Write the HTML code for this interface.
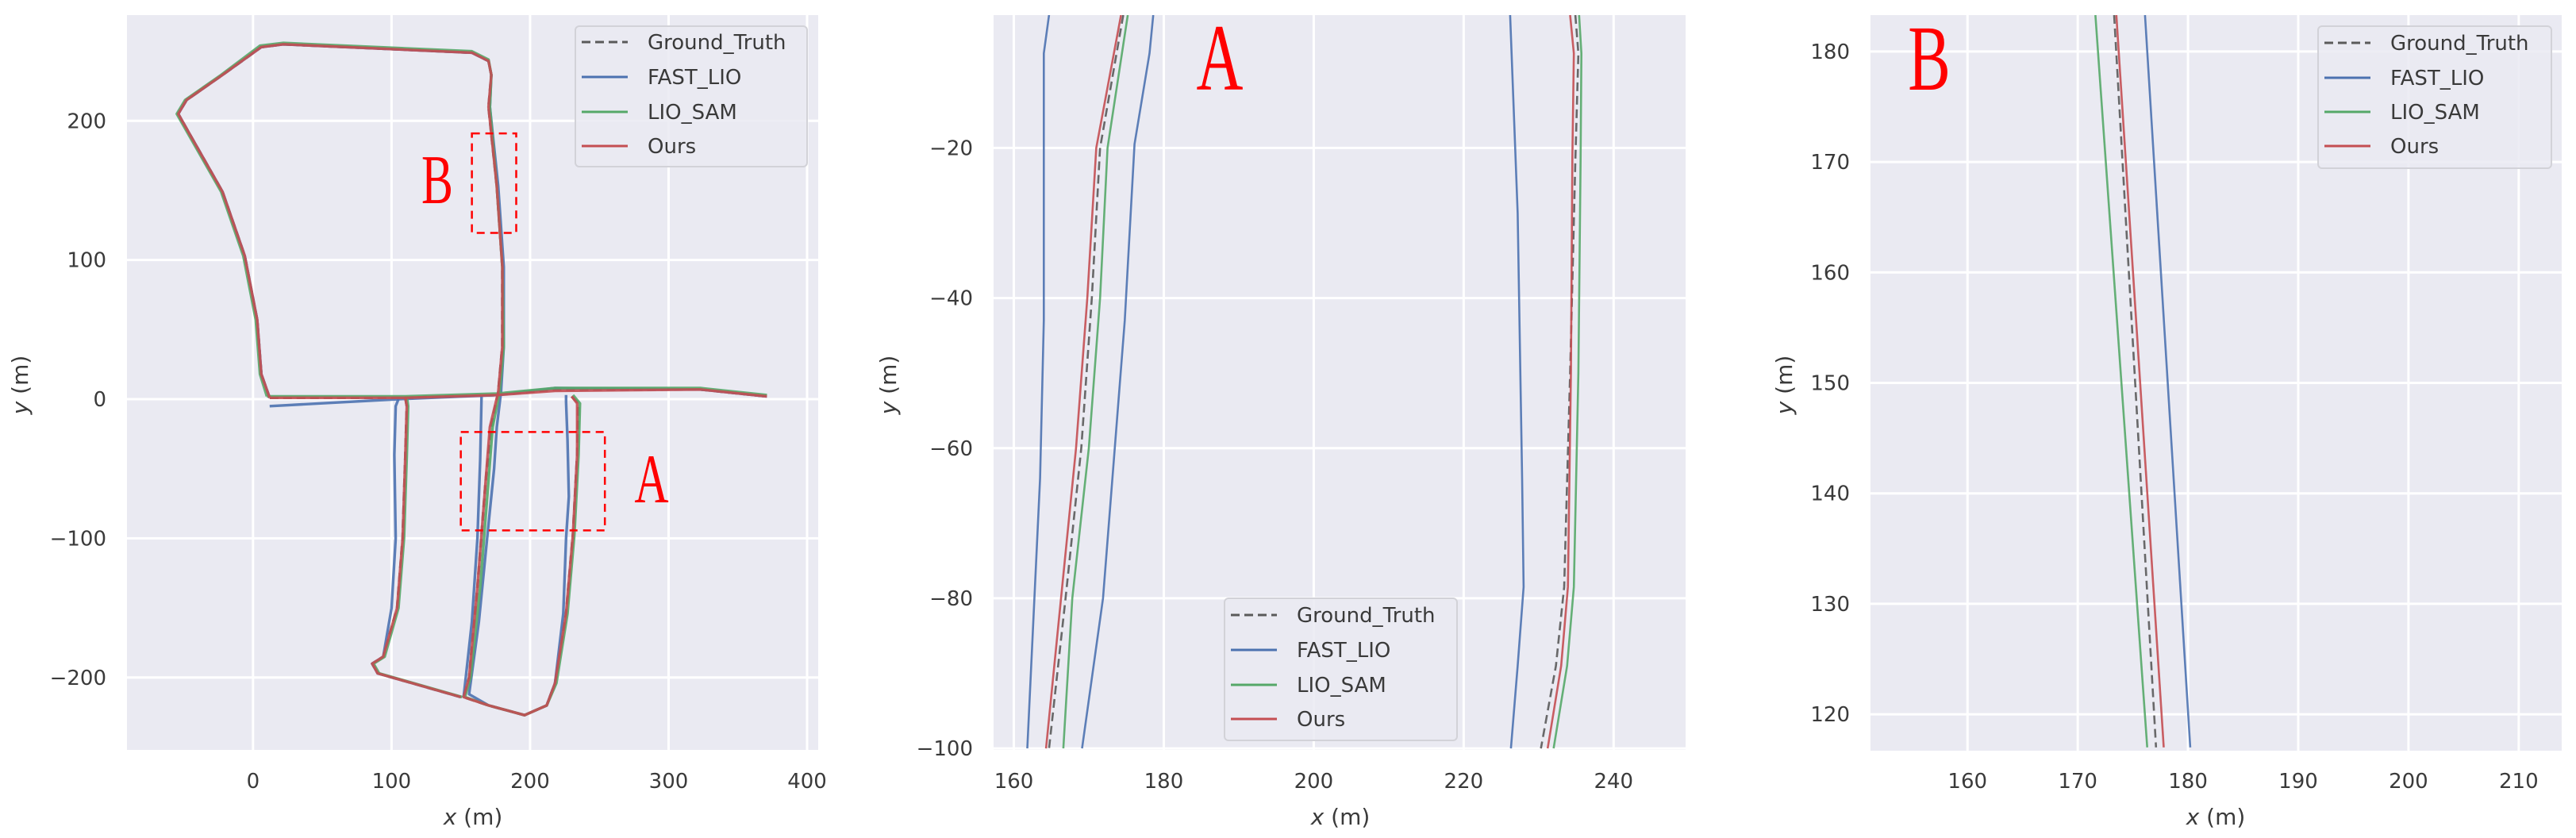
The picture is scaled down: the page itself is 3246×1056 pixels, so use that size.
<!DOCTYPE html>
<html><head><meta charset="utf-8"><style>
html,body{margin:0;padding:0;background:#fff;}
svg{display:block;}
text{font-family:"DejaVu Sans","Liberation Sans",sans-serif;fill:#3a3a3a;}
</style></head><body>
<svg id="fig" xmlns="http://www.w3.org/2000/svg" width="3246" height="1056" viewBox="0 0 3246 1056"></svg>
<script>
// ===== Panel 1 (full trajectory) data =====
const p1XTicks = [0, 100, 200, 300, 400];
const p1YTicks = [200, 100, 0, -100, -200];
const gtH_X = [12, 110, 176, 218, 323, 371];
const gtH_Y = [1, 1, 3, 7, 7, 2];
const gtLoop_X = [12, 6, 3, -6, -22, -46, -54, -48, -22, 6, 22, 158, 170, 172, 170, 176, 180, 180, 177, 172, 168, 162, 156, 152, 170, 196, 212, 218, 226, 231, 234, 235, 230];
const gtLoop_Y = [1, 18, 57, 103, 149, 191, 205, 215, 233, 253, 255, 249, 243, 233, 210, 153, 95, 38, 5, -20, -58, -135, -200, -214, -220, -227, -220, -204, -154, -97, -40, -3, 2];
const gtLow_X = [110, 111, 110, 108, 104, 94, 86, 90, 150];
const gtLow_Y = [1, -5, -40, -100, -150, -185, -190, -197, -214];
const flH_X = [12, 105, 176, 218, 323, 371];
const flH_Y = [-5, 0, 3, 8, 7, 2];
const flLoop_X = [12, 6, 3, -6, -22, -46, -54, -48, -22, 6, 22, 158, 170, 172, 171, 177, 181, 181, 179, 176, 174, 169, 163, 156, 170, 196, 212, 218, 224, 226, 228, 227, 226, 226];
const flLoop_Y = [1, 18, 57, 103, 149, 191, 205, 215, 233, 253, 255, 249, 243, 233, 210, 153, 95, 38, 5, -20, -50, -100, -160, -212, -220, -227, -220, -204, -154, -100, -70, -29, -2, 3];
const flC_X = [165, 164, 162, 158, 152];
const flC_Y = [2, -43, -100, -160, -214];
const flLow_X = [105, 103, 102, 103, 100, 94, 86, 90, 150];
const flLow_Y = [0, -5, -40, -100, -150, -185, -190, -197, -214];
const lsH_X = [10, 110, 176, 218, 323, 371];
const lsH_Y = [2, 2, 4, 8, 8, 3];
const lsLoop_X = [10, 5, 2, -7, -23, -47, -55, -49, -23, 5, 22, 158, 170, 172, 171, 176, 180, 181, 178, 173, 170, 164, 157, 153, 170, 196, 212, 219, 227, 232, 235, 236, 231];
const lsLoop_Y = [2, 18, 57, 103, 149, 191, 205, 215, 233, 254, 256, 250, 244, 233, 210, 153, 95, 38, 5, -20, -58, -135, -200, -214, -220, -227, -220, -204, -154, -97, -40, -3, 3];
const lsLow_X = [111, 112, 111, 109, 105, 95, 87, 91, 151];
const lsLow_Y = [2, -5, -40, -100, -150, -185, -190, -197, -214];
const ouH_X = [12, 110, 176, 218, 323, 371];
const ouH_Y = [1, 1, 3, 6, 7, 2];
const ouLoop_X = [12, 6, 3, -6, -22, -46, -54, -48, -22, 6, 22, 158, 170, 172, 170, 176, 180, 180, 177, 171, 168, 162, 156, 152, 170, 196, 212, 218, 226, 231, 234, 234, 230];
const ouLoop_Y = [1, 18, 57, 103, 149, 191, 205, 215, 233, 253, 255, 249, 243, 233, 210, 153, 95, 38, 5, -20, -58, -135, -200, -214, -220, -227, -220, -204, -154, -97, -40, -3, 2];
const ouLow_X = [110, 111, 110, 108, 104, 94, 86, 90, 150];
const ouLow_Y = [1, -5, -40, -100, -150, -185, -190, -197, -214];

// ===== Panel 2 (zoom A) data =====
const p2XTicks = [160, 180, 200, 220, 240];
const p2YTicks = [-20, -40, -60, -80, -100];
const a_gtL_X = [174.6, 171.5, 170.4, 169, 166.9, 164.7];
const a_gtL_Y = [-2.3, -20, -40, -60, -80, -100];
const a_gtR_X = [234.9, 235.3, 234.9, 234.2, 233.4, 232.3, 230.3];
const a_gtR_Y = [-2.3, -7.4, -21.6, -50, -78.5, -89, -100];
const a_flL1_X = [164.7, 164, 164, 163.5, 161.8];
const a_flL1_Y = [-2.3, -7.4, -43, -64, -100];
const a_flL2_X = [178.6, 178.1, 176.1, 174.8, 171.9, 169.1];
const a_flL2_Y = [-2.3, -7.4, -19.5, -43, -80, -100];
const a_flR_X = [226.2, 227.2, 227.8, 228, 227.2, 226.3];
const a_flR_Y = [-2.3, -28.7, -64, -78.5, -89, -100];
const a_lsL_X = [175.2, 172.5, 171.5, 170, 167.8, 166.6];
const a_lsL_Y = [-2.3, -20, -40, -60, -80, -100];
const a_lsR_X = [235.4, 235.7, 235.6, 235.3, 234.7, 233.8, 232];
const a_lsR_Y = [-2.3, -7.4, -21.6, -50, -78.5, -89, -100];
const a_ouL_X = [174.3, 171, 169.8, 168.3, 166.3, 164.3];
const a_ouL_Y = [-2.3, -20, -40, -60, -80, -100];
const a_ouR_X = [234.2, 234.7, 234.5, 234.3, 233.9, 233, 231.2];
const a_ouR_Y = [-2.3, -7.4, -21.6, -50, -78.5, -89, -100];

// ===== Panel 3 (zoom B) data =====
const p3XTicks = [160, 170, 180, 190, 200, 210];
const p3YTicks = [180, 170, 160, 150, 140, 130, 120];
const b_gt_X = [173.3, 177.1];
const b_gt_Y = [183.3, 117];
const b_fl_X = [176.1, 180.2];
const b_fl_Y = [183.3, 117];
const b_ls_X = [171.6, 176.3];
const b_ls_Y = [183.3, 117];
const b_ou_X = [173.5, 177.8];
const b_ou_Y = [183.3, 117];

const NS = "http://www.w3.org/2000/svg";
const fig = document.getElementById('fig');
function mk(tag, parent, attrs) {
  const e = document.createElementNS(NS, tag);
  for (const k in attrs) e.setAttribute(k, attrs[k]);
  parent.appendChild(e);
  return e;
}
const COL = {gt: '#5a5a5a', fl: '#4c72b0', ls: '#55a868', ou: '#c44e52'};

const panels = [
  {id: 'p1', px0: 160, px1: 1031, py0: 19, py1: 945, xmin: -91, xmax: 408, ymin: -252, ymax: 276,
   xt: p1XTicks, yt: p1YTicks, ylabX: 25, xlabX: 596, lw: 3.4},
  {id: 'p2', px0: 1252, px1: 2124, py0: 19, py1: 945, xmin: 157.3, xmax: 249.6, ymin: -100.2, ymax: -2.3,
   xt: p2XTicks, yt: p2YTicks, ylabX: 1119, xlabX: 1689, lw: 2.6},
  {id: 'p3', px0: 2357, px1: 3228, py0: 19, py1: 946, xmin: 151.2, xmax: 213.9, ymin: 116.7, ymax: 183.3,
   xt: p3XTicks, yt: p3YTicks, ylabX: 2248, xlabX: 2792, lw: 2.6}
];
panels.forEach(p => {
  p.sx = v => p.px0 + (v - p.xmin) / (p.xmax - p.xmin) * (p.px1 - p.px0);
  p.sy = v => p.py1 - (v - p.ymin) / (p.ymax - p.ymin) * (p.py1 - p.py0);
});

function drawAxes(p) {
  const g = mk('g', fig, {});
  
  
  const bg = mk('rect', g, {x: p.px0, y: p.py0, width: p.px1 - p.px0, height: p.py1 - p.py0, fill: '#eaeaf2'});
  
  
  p.xt.forEach(t => {
    const x = p.sx(t);
    const gl = mk('line', g, {x1: x, x2: x, y1: p.py0, y2: p.py1, stroke: '#fff', 'stroke-width': 3});
    
    
    const tl = mk('text', g, {x: x, y: 993, 'font-size': 26, 'text-anchor': 'middle'});
    tl.textContent = t < 0 ? '\u2212' + Math.abs(t) : String(t);
    
    
  });
  p.yt.forEach(t => {
    const y = p.sy(t);
    const gl = mk('line', g, {x1: p.px0, x2: p.px1, y1: y, y2: y, stroke: '#fff', 'stroke-width': 3});
    
    
    const tl = mk('text', g, {x: p.px0 - 26, y: y + 9, 'font-size': 26, 'text-anchor': 'end'});
    tl.textContent = t < 0 ? '\u2212' + Math.abs(t) : String(t);
    
    
  });
  const xl = mk('text', g, {x: p.xlabX, y: 1039, 'font-size': 28, 'text-anchor': 'middle'});
  xl.innerHTML = '<tspan font-style="italic">x</tspan> (m)';
  
  
  const yl = mk('text', g, {x: 0, y: 0, 'font-size': 28, 'text-anchor': 'middle', transform: 'translate(' + (p.ylabX + 10) + ',485) rotate(-90)'});
  yl.innerHTML = '<tspan font-style="italic">y</tspan> (m)';
  
  
  const cp = mk('clipPath', fig, {id: 'clip-' + p.id});
  mk('rect', cp, {x: p.px0, y: p.py0, width: p.px1 - p.px0, height: p.py1 - p.py0});
}

function drawLine(p, xs, ys, key, name) {
  let d = '';
  xs.forEach((v, i) => { d += (i ? 'L' : 'M') + p.sx(v).toFixed(1) + ',' + p.sy(ys[i]).toFixed(1); });
  const attrs = {d: d, fill: 'none', stroke: COL[key], 'stroke-width': p.lw, 'stroke-linejoin': 'round', 'stroke-linecap': 'butt', 'clip-path': 'url(#clip-' + p.id + ')', opacity: 0.9};
  if (key === 'gt') attrs['stroke-dasharray'] = '11 6';
  const e = mk('path', fig, attrs);
  
  
}

function drawLegend(p, x, y, w, h, rowY) {
  const g = mk('g', fig, {});
  
  
  const r = mk('rect', g, {x: x, y: y, width: w, height: h, rx: 5, fill: '#eaeaf2', 'fill-opacity': 0.85, stroke: '#d2d2d8', 'stroke-width': 2});
  
  
  const items = [['gt', 'Ground_Truth'], ['fl', 'FAST_LIO'], ['ls', 'LIO_SAM'], ['ou', 'Ours']];
  items.forEach((it, i) => {
    const ly = rowY[i];
    const ln = mk('line', g, {x1: x + 8, x2: x + 66, y1: ly, y2: ly, stroke: COL[it[0]], 'stroke-width': 3});
    if (it[0] === 'gt') ln.setAttribute('stroke-dasharray', '11 6');
    
    
    const t = mk('text', g, {x: x + 91, y: ly + 9, 'font-size': 26});
    t.textContent = it[1];
    
    
  });
}

function redText(txt, x, y, size, name) {
  const t = mk('text', fig, {x: 0, y: 0, 'font-size': size, 'text-anchor': 'middle', transform: 'translate(' + x + ',' + y + ') scale(0.68,1)', style: 'font-family:"Liberation Serif","Noto Serif CJK SC",serif;fill:#ff0000'});
  t.textContent = txt;
  
  
}

panels.forEach(drawAxes);
const [P1, P2, P3] = panels;

drawLine(P1, gtH_X, gtH_Y, 'gt', 'p1-ground-truth-horizontal');
drawLine(P1, gtLoop_X, gtLoop_Y, 'gt', 'p1-ground-truth-loop');
drawLine(P1, gtLow_X, gtLow_Y, 'gt', 'p1-ground-truth-lower');
drawLine(P1, flH_X, flH_Y, 'fl', 'p1-fast-lio-horizontal');
drawLine(P1, flLoop_X, flLoop_Y, 'fl', 'p1-fast-lio-loop');
drawLine(P1, flC_X, flC_Y, 'fl', 'p1-fast-lio-center');
drawLine(P1, flLow_X, flLow_Y, 'fl', 'p1-fast-lio-lower');
drawLine(P1, lsH_X, lsH_Y, 'ls', 'p1-lio-sam-horizontal');
drawLine(P1, lsLoop_X, lsLoop_Y, 'ls', 'p1-lio-sam-loop');
drawLine(P1, lsLow_X, lsLow_Y, 'ls', 'p1-lio-sam-lower');
drawLine(P1, ouH_X, ouH_Y, 'ou', 'p1-ours-horizontal');
drawLine(P1, ouLoop_X, ouLoop_Y, 'ou', 'p1-ours-loop');
drawLine(P1, ouLow_X, ouLow_Y, 'ou', 'p1-ours-lower');
drawLegend(P1, 725, 33, 292, 177, [53, 97, 141, 184]);

function zoomBox(x0, x1, y0, y1, name) {
  const r = mk('rect', fig, {x: P1.sx(x0), y: P1.sy(y1), width: P1.sx(x1) - P1.sx(x0), height: P1.sy(y0) - P1.sy(y1), fill: 'none', stroke: '#ff0000', 'stroke-width': 2.5, 'stroke-dasharray': '10 7'});
  
  
}
zoomBox(158, 190, 119.5, 191, 'zoom-box-b');
zoomBox(150, 254, -94.3, -23.6, 'zoom-box-a');
redText('B', 551, 256, 88, 'label-b-panel1');
redText('A', 821, 633, 88, 'label-a-panel1');

drawLine(P2, a_gtL_X, a_gtL_Y, 'gt', 'p2-ground-truth-left');
drawLine(P2, a_gtR_X, a_gtR_Y, 'gt', 'p2-ground-truth-right');
drawLine(P2, a_flL1_X, a_flL1_Y, 'fl', 'p2-fast-lio-left-outer');
drawLine(P2, a_flL2_X, a_flL2_Y, 'fl', 'p2-fast-lio-left-inner');
drawLine(P2, a_flR_X, a_flR_Y, 'fl', 'p2-fast-lio-right');
drawLine(P2, a_lsL_X, a_lsL_Y, 'ls', 'p2-lio-sam-left');
drawLine(P2, a_lsR_X, a_lsR_Y, 'ls', 'p2-lio-sam-right');
drawLine(P2, a_ouL_X, a_ouL_Y, 'ou', 'p2-ours-left');
drawLine(P2, a_ouR_X, a_ouR_Y, 'ou', 'p2-ours-right');
drawLegend(P2, 1543, 754, 293, 179, [775, 819, 863, 906]);
redText('A', 1537, 113, 120, 'label-a-panel2');

drawLine(P3, b_gt_X, b_gt_Y, 'gt', 'p3-ground-truth');
drawLine(P3, b_fl_X, b_fl_Y, 'fl', 'p3-fast-lio');
drawLine(P3, b_ls_X, b_ls_Y, 'ls', 'p3-lio-sam');
drawLine(P3, b_ou_X, b_ou_Y, 'ou', 'p3-ours');
drawLegend(P3, 2921, 33, 294, 179, [54, 98, 141, 184]);
redText('B', 2431, 113, 118, 'label-b-panel3');
</script>
</body></html>
